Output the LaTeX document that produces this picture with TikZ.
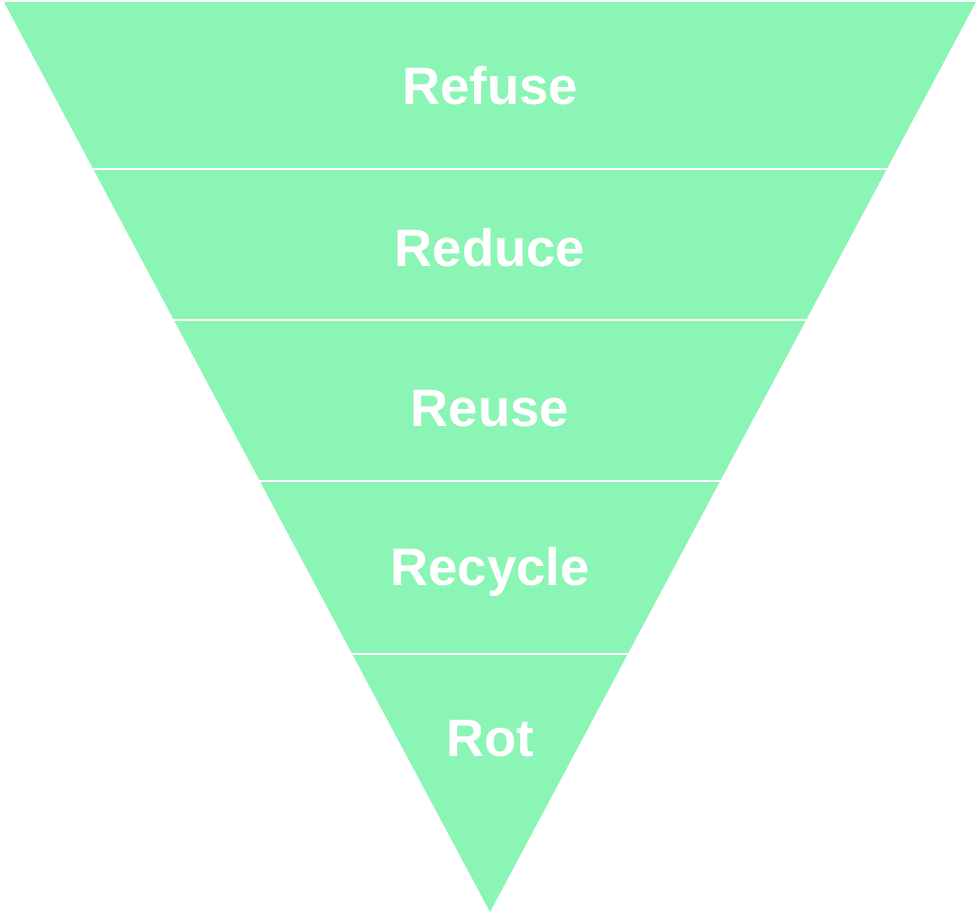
\documentclass[tikz,border=0pt]{standalone}
\usepackage{fontspec}
\setmainfont{Liberation Sans}
\definecolor{mint}{HTML}{8AF5B5}
\tikzset{level/.style={text=white,font=\bfseries\fontsize{30}{36}\selectfont}}
\begin{document}
\begin{tikzpicture}[x=0.02cm,y=-0.02cm]
    \useasboundingbox (0,0) rectangle (980,919);
    \coordinate (tl) at (4,2);
    \coordinate (tr) at (976,2);
    \coordinate (apex) at (490,912);
    \fill[mint] (tl) -- (tr) -- (apex) -- cycle;
    % separators between the levels
    \foreach \y in {169,320,481,654}
        \draw[white,line width=0.05cm] (0,\y) -- (980,\y);
    \node[level] (refuse)  at (490,86)  {Refuse};
    \node[level] (reduce)  at (490,248) {Reduce};
    \node[level] (reuse)   at (490,409) {Reuse};
    \node[level] (recycle) at (490,572) {Recycle};
    \node[level] (rot)     at (490,739) {Rot};
\end{tikzpicture}
\end{document}
